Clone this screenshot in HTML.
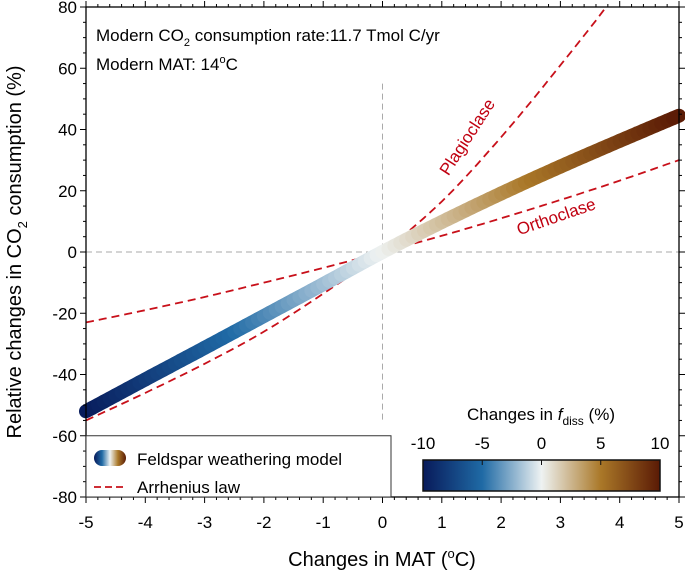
<!DOCTYPE html>
<html><head><meta charset="utf-8"><style>
body{margin:0;background:#fff;}
svg{display:block;font-family:"Liberation Sans",Arial,sans-serif;}
</style></head><body>
<svg id="chart" width="685" height="575" viewBox="0 0 685 575">
<defs>
<linearGradient id="cmap" x1="0" x2="1" y1="0" y2="0">
<stop offset="0" stop-color="#081a5a"/><stop offset="0.25" stop-color="#1f6aa5"/>
<stop offset="0.5" stop-color="#eef2f2"/><stop offset="0.75" stop-color="#aa7828"/>
<stop offset="1" stop-color="#5a1a05"/></linearGradient>
<clipPath id="pc"><rect x="86" y="7" width="593" height="490"/></clipPath>
</defs>
<g id="plot"></g>
</svg>
<script>
const xVals=[-5,-4,-3,-2,-1,0,1,2,3,4,5];
const modelVals=[-52,-41.6,-31.3,-20.9,-10.5,0,9.8,19.1,27.9,36.3,44.5];
const plagVals=[-55,-46,-36.5,-26,-13.6,0,16.5,37.5,61,86,115];
const orthVals=[-23,-19,-14.7,-10,-5.2,0,5.3,11,17,23.3,30];
const xTicks=[-5,-4,-3,-2,-1,0,1,2,3,4,5];
const yTicks=[-80,-60,-40,-20,0,20,40,60,80];
const cbTicks=[-10,-5,0,5,10];
const fdissRange=[-10,10];
const L=86,R=679,T=7,B=497;
const sx=v=>L+(v+5)/10*(R-L);
const sy=v=>B-(v+80)/160*(B-T);
const NS='http://www.w3.org/2000/svg';
const g=document.getElementById('plot');
function mk(tag,attrs,parent){const e=document.createElementNS(NS,tag);for(const k in attrs)e.setAttribute(k,attrs[k]);(parent||g).appendChild(e);return e;}
const stops=[[0,[8,26,90]],[0.25,[31,106,165]],[0.5,[238,242,242]],[0.75,[170,120,40]],[1,[90,26,5]]];
function cmap(t){for(let i=1;i<stops.length;i++){if(t<=stops[i][0]){const a=stops[i-1],b=stops[i],f=(t-a[0])/(b[0]-a[0]);return 'rgb('+a[1].map((c,j)=>Math.round(c+(b[1][j]-c)*f)).join(',')+')';}}return 'rgb(90,26,5)';}
function interp(arr,x){
  const n=arr.length-1;
  const i=Math.min(Math.floor(x+5),n-1);const f=x+5-i;
  const p1=arr[i],p2=arr[i+1];
  const p0=i>0?arr[i-1]:2*arr[0]-arr[1];
  const p3=i+2<=n?arr[i+2]:2*arr[n]-arr[n-1];
  return 0.5*((2*p1)+(-p0+p2)*f+(2*p0-5*p1+4*p2-p3)*f*f+(-p0+3*p1-3*p2+p3)*f*f*f);
}
let zl=mk('line',{x1:L,x2:R,y1:sy(0),y2:sy(0),stroke:'#aaa','stroke-dasharray':'6,4','stroke-width':1});

zl=mk('line',{x1:sx(0),x2:sx(0),y1:sy(55),y2:sy(-55),stroke:'#aaa','stroke-dasharray':'6,4','stroke-width':1});

const cg=mk('g',{'clip-path':'url(#pc)'});
function curve(arr,name){let d='';for(let k=0;k<=100;k++){const x=-5+k/10;d+=(k?'L':'M')+sx(x).toFixed(1)+','+sy(interp(arr,x)).toFixed(1);}
const p=mk('path',{d:d,fill:'none',stroke:'#c8101a','stroke-width':1.8,'stroke-dasharray':'8,5'},cg);
}
curve(plagVals,'plagioclase-curve');curve(orthVals,'orthoclase-curve');
const mg=mk('g',{});
for(let k=0;k<100;k++){const x0=-5+k/10,x1=x0+0.1;const fd=fdissRange[0]+(k+0.5)/100*(fdissRange[1]-fdissRange[0]);
mk('line',{x1:sx(x0),y1:sy(interp(modelVals,x0)),x2:sx(x1),y2:sy(interp(modelVals,x1)),stroke:cmap((fd-fdissRange[0])/(fdissRange[1]-fdissRange[0])),'stroke-width':14,'stroke-linecap':'round'},mg);}
let t=mk('text',{x:0,y:0,transform:'translate(472,140) rotate(-57)','font-size':17,fill:'#c00010','text-anchor':'middle'});t.textContent='Plagioclase';

t=mk('text',{x:0,y:0,transform:'translate(558,222) rotate(-19)','font-size':17,fill:'#c00010','text-anchor':'middle'});t.textContent='Orthoclase';

let bx=mk('rect',{x:L,y:T,width:R-L,height:B-T,fill:'none',stroke:'#000','stroke-width':1.3});

const tg=mk('g',{stroke:'#000','stroke-width':1});
for(let k=0;k<=50;k++){const x=sx(-5+k*0.2),len=k%5==0?6:3;mk('line',{x1:x,x2:x,y1:B,y2:B+len},tg);mk('line',{x1:x,x2:x,y1:T,y2:T-len},tg);}
for(let k=0;k<=32;k++){const y=sy(-80+k*5),len=k%4==0?6:3;mk('line',{x1:L,x2:L-len,y1:y,y2:y},tg);mk('line',{x1:R,x2:R+len,y1:y,y2:y},tg);}
xTicks.forEach(v=>{const e=mk('text',{x:sx(v),y:528,'font-size':17,'text-anchor':'middle'});e.textContent=v;});
yTicks.forEach(v=>{const e=mk('text',{x:L-9,y:sy(v)+6,'font-size':17,'text-anchor':'end'});e.textContent=v;});
t=mk('text',{x:382,y:566,'font-size':20,'text-anchor':'middle'});t.innerHTML='Changes in MAT (<tspan dy="-8" font-size="13">o</tspan><tspan dy="8">C)</tspan>';

t=mk('text',{x:0,y:0,transform:'translate(21,252) rotate(-90)','font-size':20,'text-anchor':'middle'});t.innerHTML='Relative changes in CO<tspan dy="6" font-size="13">2</tspan><tspan dy="-6"> consumption (%)</tspan>';

t=mk('text',{x:96,y:41,'font-size':17});t.innerHTML='Modern CO<tspan dy="5" font-size="11">2</tspan><tspan dy="-5"> consumption rate:11.7 Tmol C/yr</tspan>';

t=mk('text',{x:96,y:70,'font-size':17});t.innerHTML='Modern MAT: 14<tspan dy="-7" font-size="11">o</tspan><tspan dy="7">C</tspan>';

const lg=mk('g',{});
mk('rect',{x:L,y:sy(-60),width:305,height:B-sy(-60),fill:'#fff',stroke:'#333','stroke-width':1},lg);
const lr=mk('rect',{x:94,y:450,width:32,height:16,rx:8,fill:'url(#cmap)'},lg);

t=mk('text',{x:137,y:465,'font-size':17},lg);t.textContent='Feldspar weathering model';
const ll=mk('line',{x1:94,x2:127,y1:487,y2:487,stroke:'#c8101a','stroke-width':1.8,'stroke-dasharray':'7,4'},lg);

t=mk('text',{x:137,y:493,'font-size':17},lg);t.textContent='Arrhenius law';
const cb=mk('g',{});
const CL=423,CR=660;
mk('rect',{x:CL,y:460,width:CR-CL,height:31,fill:'url(#cmap)',stroke:'#111','stroke-width':1.5},cb);
cbTicks.forEach(v=>{const x=CL+(v-fdissRange[0])/(fdissRange[1]-fdissRange[0])*(CR-CL);mk('line',{x1:x,x2:x,y1:460,y2:465,stroke:'#111'},cb);
const e=mk('text',{x:x,y:449,'font-size':17,'text-anchor':'middle'},cb);e.textContent=v;});
t=mk('text',{x:541,y:420,'font-size':17,'text-anchor':'middle'},cb);t.innerHTML='Changes in <tspan font-style="italic">f</tspan><tspan dy="5" font-size="12">diss</tspan><tspan dy="-5"> (%)</tspan>';

</script>
</body></html>
